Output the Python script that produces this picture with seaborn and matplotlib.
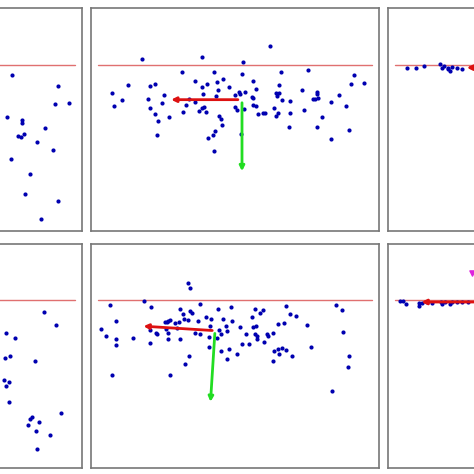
import matplotlib
matplotlib.use("Agg")
import matplotlib.pyplot as plt
import seaborn as sns

sns.set_style("white")

# point positions (3x pixel units, per panel)
top_left_x = [35, 20, 66, 66, 55, 62, 72, 32, 90, 76, 122, 111, 134, 158, 174, 166, 206, 174]
top_left_y = [224, 352, 360, 368, 407, 410, 402, 476, 521, 581, 657, 426, 383, 451, 258, 312, 310, 604]

top_mid_x = [811, 427, 605, 729, 546, 641, 727, 844, 924, 1062, 385, 336, 343, 367, 449, 466, 491, 444, 451,
             464, 473, 471, 487, 508, 548, 558, 567, 584, 585, 605, 608, 607, 612, 598, 617, 620, 651, 653,
             648, 669, 686, 656, 662, 665, 645, 640, 623, 643, 705, 718, 719, 736, 706, 712, 732, 722, 760,
             768, 757, 759, 760, 768, 773, 790, 794, 822, 827, 835, 836, 828, 832, 837, 847, 869, 869, 866,
             905, 911, 938, 944, 955, 950, 950, 966, 951, 993, 994, 1017, 1039, 1047, 1052, 1093]
top_mid_y = [137, 178, 172, 186, 215, 215, 223, 217, 209, 225, 255, 280, 317, 301, 259, 253, 285, 298, 325,
             342, 363, 405, 309, 351, 336, 314, 298, 244, 307, 262, 282, 324, 320, 334, 335, 251, 246, 270,
             287, 237, 260, 347, 357, 376, 392, 405, 413, 453, 284, 276, 283, 275, 320, 330, 327, 403, 243,
             266, 290, 293, 315, 318, 342, 338, 338, 323, 348, 340, 256, 280, 288, 278, 300, 303, 340, 382,
             270, 329, 297, 298, 294, 276, 281, 352, 380, 305, 417, 285, 318, 391, 251, 250]

top_right_x = [1222, 1249, 1271, 1319, 1327, 1333, 1345, 1350, 1355, 1371, 1387, 1343]
top_right_y = [203, 203, 199, 192, 203, 199, 208, 212, 200, 203, 207, 203]

bot_left_x = [132, 167, 18, 45, 14, 31, 104, 12, 27, 18, 28, 97, 90, 85, 117, 108, 182, 150, 112]
bot_left_y = [216, 254, 278, 293, 354, 349, 362, 421, 425, 438, 487, 531, 537, 555, 545, 574, 520, 586, 628]

bot_mid_x = [563, 570, 331, 433, 454, 600, 303, 318, 349, 349, 348, 337, 399, 449, 449, 467, 471, 495, 500,
             505, 511, 497, 505, 505, 510, 526, 531, 537, 540, 541, 549, 551, 563, 569, 577, 584, 594, 600,
             618, 633, 629, 626, 626, 653, 656, 651, 664, 664, 669, 677, 682, 682, 687, 693, 697, 711, 721,
             727, 737, 746, 757, 760, 765, 767, 766, 771, 772, 780, 789, 793, 802, 804, 818, 822, 820, 834,
             838, 845, 857, 875, 834, 852, 859, 869, 889, 920, 933, 555, 568, 995, 1008, 1027, 1028, 1046, 1043]
bot_mid_y = [128, 143, 195, 182, 201, 192, 268, 288, 243, 298, 316, 405, 295, 271, 310, 278, 282, 245, 247,
             244, 241, 266, 280, 298, 406, 250, 265, 245, 298, 208, 221, 237, 240, 213, 220, 278, 243, 283,
             232, 237, 258, 290, 320, 208, 269, 295, 281, 332, 237, 258, 272, 358, 326, 201, 242, 341, 261,
             312, 283, 311, 232, 261, 207, 258, 282, 288, 296, 218, 211, 305, 281, 287, 280, 334, 363, 326,
             342, 325, 330, 347, 251, 249, 197, 221, 227, 255, 320, 371, 348, 453, 196, 211, 275, 349, 382]

bot_right_x = [1200, 1208, 1218, 1256, 1258, 1265, 1280, 1295, 1323, 1325, 1335, 1350, 1355, 1370, 1385, 1405]
bot_right_y = [184, 184, 191, 197, 190, 188, 186, 188, 185, 193, 186, 193, 186, 187, 187, 187]
bot_right_extra = (1417, 100)

# reference level and principal-axis arrows: (panel, line y, line x0, line x1, arrows)
top_line = 195
bot_line = 181

W, H = 474, 474
fig = plt.figure(figsize=(W / 100, H / 100), dpi=100)

panels_x = [(-617, 247), (274, 1137), (1163, 2026)]
rows = [((25, 694), 0), ((12, 683), 240)]


def make_ax(col, row):
    (x0, x1) = panels_x[col]
    (y0, y1), off = rows[row]
    left = x0 / 3 / W
    width = (x1 - x0) / 3 / W
    bottom = 1 - (off + y1 / 3) / H
    height = (y1 - y0) / 3 / H
    ax = fig.add_axes([left, bottom, width, height])
    ax.set_xlim(x0, x1)
    ax.set_ylim(y1, y0)
    ax.set_xticks([])
    ax.set_yticks([])
    for s in ax.spines.values():
        s.set_color("#777777")
        s.set_linewidth(1.2)
    return ax


dot = dict(color="#0000b0", s=9, linewidth=0, zorder=3)
line_kw = dict(color="#e07070", linewidth=1, zorder=1)


def arrow(ax, x0, y0, x1, y1, color):
    ax.annotate("", xy=(x1, y1), xytext=(x0, y0),
                arrowprops=dict(arrowstyle="-|>", color=color, lw=2, mutation_scale=7), zorder=4)


# top row
ax = make_ax(0, 0)
ax.plot([-600, 225], [top_line, top_line], **line_kw)
sns.scatterplot(x=top_left_x, y=top_left_y, ax=ax, **dot)

ax = make_ax(1, 0)
ax.plot([295, 1115], [top_line, top_line], **line_kw)
sns.scatterplot(x=top_mid_x, y=top_mid_y, ax=ax, **dot)
arrow(ax, 722, 299, 505, 299, "#dd1111")
arrow(ax, 726, 300, 726, 522, "#22dd22")

ax = make_ax(2, 0)
ax.plot([1185, 2000], [top_line, top_line], **line_kw)
sns.scatterplot(x=top_right_x, y=top_right_y, ax=ax, **dot)
arrow(ax, 1600, 203, 1392, 203, "#dd1111")

# bottom row
ax = make_ax(0, 1)
ax.plot([-600, 225], [bot_line, bot_line], **line_kw)
sns.scatterplot(x=bot_left_x, y=bot_left_y, ax=ax, **dot)

ax = make_ax(1, 1)
ax.plot([295, 1115], [bot_line, bot_line], **line_kw)
sns.scatterplot(x=bot_mid_x, y=bot_mid_y, ax=ax, **dot)
arrow(ax, 645, 272, 422, 258, "#dd1111")
arrow(ax, 645, 272, 631, 494, "#22dd22")

ax = make_ax(2, 1)
ax.plot([1185, 2000], [bot_line, bot_line], **line_kw)
sns.scatterplot(x=bot_right_x, y=bot_right_y, ax=ax, **dot)
arrow(ax, 1600, 186, 1256, 186, "#dd1111")
ax.scatter([bot_right_extra[0]], [bot_right_extra[1]], marker="v", color="#dd22dd", s=14, zorder=4)

fig.savefig("out.png", dpi=100)
